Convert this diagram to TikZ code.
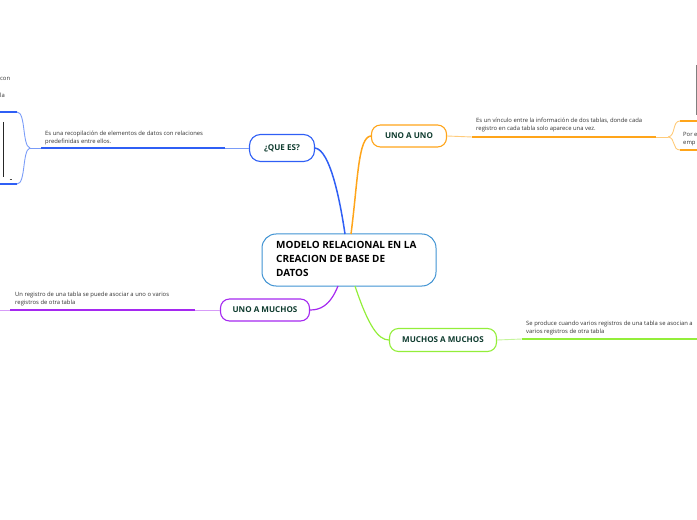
\documentclass[tikz,border=0pt]{standalone}
\usepackage{fontspec}
\setmainfont{Open Sans}
\usepackage{xcolor}
\usetikzlibrary{positioning,calc}
\definecolor{qblue}{HTML}{2F5FF5}
\definecolor{qbluel}{HTML}{7A9CF8}
\definecolor{mblue}{HTML}{3F92D2}
\definecolor{uorange}{HTML}{FFA51A}
\definecolor{uorangel}{HTML}{FFCB7A}
\definecolor{mpurple}{HTML}{A528F0}
\definecolor{mpurplel}{HTML}{D79CF8}
\definecolor{mgreen}{HTML}{93EE3A}
\definecolor{mgreenl}{HTML}{C4F59A}
\definecolor{ltext}{HTML}{0E3B2E}
\begin{document}
\begin{tikzpicture}[x=1bp,y=-1bp,
				box/.style={
					draw, line width=1.1bp, align=center,
					rounded corners=9bp, inner sep=0pt,
					text=ltext, font=\fontsize{8.1}{9}\selectfont\bfseries,
				},
				desc/.style={
					align=left, inner sep=0pt, anchor=south west,
					text=black!80, font=\fontsize{5.9}{8.4}\selectfont,
				},
				thick line/.style={line width=2bp},
				thin line/.style={line width=0.9bp},
				]
				\useasboundingbox (0,0) rectangle (697,520);
				
				\node[draw=mblue, line width=1bp, rounded corners=14bp,
				minimum width=174bp, minimum height=52bp, inner sep=0pt] (main) at (349,260) {};
				\node[anchor=north west, align=left, inner sep=0pt, text=black,
				font=\fontsize{10}{14}\selectfont\bfseries] (title) at (276,241)
				{MODELO RELACIONAL EN LA\\CREACION DE BASE DE\\DATOS};
				
				\node[box, draw=qblue, minimum width=65bp, minimum height=27bp, rounded corners=11bp] (q1) at (282,148) {¿QUE ES?};
				\node[box, draw=uorange, minimum width=75bp, minimum height=22bp] (q2) at (409,136) {UNO A UNO};
				\node[box, draw=mpurple, minimum width=89bp, minimum height=22bp] (q3) at (265,310) {UNO A MUCHOS};
				\node[box, draw=mgreen, minimum width=107bp, minimum height=23bp] (q4) at (443,340) {MUCHOS A MUCHOS};
				
				% ramas desde el centro
				\draw[qblue, line width=1.5bp] (q1.east) .. controls (330,150) and (340,200) .. (345,234);
				\draw[uorange, line width=1.5bp] (351,234) .. controls (358,180) and (358,137) .. (q2.west);
				\draw[mpurple, line width=1.2bp] (338,286) .. controls (330,306) and (320,310) .. (q3.east);
				\draw[mgreen, line width=1.2bp] (355,286) .. controls (368,325) and (378,340) .. (q4.west);
				
				% descripciones
				\coordinate (d1a) at (41,148);
				\coordinate (d1b) at (225,148);
				\draw[qbluel, thin line] (q1.west) -- (d1b);
				\draw[qblue, thick line] (d1b) -- (d1a);
				\node[desc] (t1) at (45,145) {Es una recopilación de elementos de datos con relaciones\\predefinidas entre ellos.};
				
				\coordinate (d2a) at (472,137);
				\coordinate (d2b) at (656,137);
				\coordinate (f2) at (668,137);
				\draw[uorangel, thin line] (q2.east) -- (d2a);
				\draw[uorange, thick line] (d2a) -- (d2b);
				\draw[uorangel, thin line] (d2b) -- (f2);
				\node[desc] (t2) at (476,132) {Es un vínculo entre la información de dos tablas, donde cada\\registro en cada tabla solo aparece una vez.};
				
				\coordinate (d3a) at (10,310);
				\coordinate (d3b) at (195,310);
				\draw[mpurplel, thin line] (q3.west) -- (d3b);
				\draw[mpurple, thick line] (d3b) -- (d3a);
				\draw[mpurplel, thin line] (d3a) -- (0,310);
				\node[desc] (t3) at (15,306) {Un registro de una tabla se puede asociar a uno o varios\\registros de otra tabla};
				
				\coordinate (d4a) at (522,339);
				\draw[mgreenl, thin line] (q4.east) -- (d4a);
				\draw[mgreen, thick line] (d4a) -- (697,339);
				\node[desc] (t4) at (526,335) {Se produce cuando varios registros de una tabla se asocian a\\varios registros de otra tabla};
				
				% lado izquierdo (cortado)
				\coordinate (f1) at (30,148);
				\draw[qbluel, thin line] (d1a) -- (f1);
				\draw[qbluel, thin line] (f1) .. controls (22,146) and (26,112) .. (17,112);
				\draw[qbluel, thin line] (f1) .. controls (22,150) and (26,184) .. (17,184);
				\draw[qblue, thick line] (17,112) -- (0,112);
				\draw[qblue, thick line] (17,184) -- (0,184);
				\draw[black!85, line width=0.8bp] (3,122) -- (3,177);
				\draw[black!70, line width=0.6bp] (9.5,179) -- (12,179);
				\node[desc, anchor=base west] (c1) at (0,81) {con};
				\node[desc, anchor=base west] (c2) at (0,98) {la};
				
				% lado derecho (cortado)
				\draw[uorangel, thin line] (f2) .. controls (676,136) and (672,121) .. (680,121);
				\draw[uorangel, thin line] (f2) .. controls (676,138) and (672,150) .. (680,150);
				\draw[uorange, thick line] (680,121) -- (697,121);
				\draw[uorange, thick line] (680,150) -- (697,150);
				\node[desc] (t5) at (683,146) {Por e\\emp};
				\draw[black!50, line width=0.6bp] (696,65) -- (696,115);
			\end{tikzpicture}
\end{document}
